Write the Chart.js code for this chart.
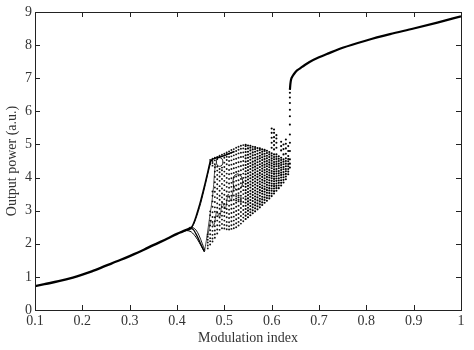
<!DOCTYPE html>
<html>
<head>
<meta charset="utf-8">
<script src="https://cdn.jsdelivr.net/npm/chart.js@4/dist/chart.umd.min.js"></script>
<style>
html,body{margin:0;padding:0;background:#fff;}
canvas{display:block;}
</style>
</head>
<body>
<canvas id="c" width="474" height="350"></canvas>
<script>
// ---- data ----
const xTicks = [0.1,0.2,0.3,0.4,0.5,0.6,0.7,0.8,0.9,1];
const yTicks = [0,1,2,3,4,5,6,7,8,9];

// lower stable branch
const mainX = [0.1,0.12,0.15,0.18,0.2,0.22,0.25,0.28,0.3,0.33,0.35,0.38,0.4,0.41,0.42,0.43];
const mainY = [0.72,0.78,0.87,0.98,1.07,1.17,1.34,1.51,1.63,1.82,1.96,2.16,2.3,2.36,2.42,2.47];

// period-doubled branch going up
const upX = [0.43,0.435,0.44,0.445,0.45,0.455,0.46,0.465,0.469,0.473,0.48,0.49,0.5,0.51,0.52];
const upY = [2.47,2.62,2.82,3.05,3.3,3.58,3.87,4.17,4.42,4.53,4.58,4.62,4.66,4.72,4.78];
const up2X = [0.428,0.435,0.44,0.445,0.45,0.455,0.46,0.465,0.47];
const up2Y = [2.45,2.58,2.76,2.98,3.22,3.5,3.79,4.1,4.4];

// branches bending down into the dip
const dn1X = [0.43,0.435,0.44,0.445,0.45,0.455,0.458];
const dn1Y = [2.47,2.42,2.3,2.16,2.0,1.85,1.76];
const dn2X = [0.41,0.42,0.43,0.44,0.447,0.453,0.457];
const dn2Y = [2.36,2.4,2.36,2.2,2.04,1.88,1.77];
const dn3X = [0.425,0.432,0.44,0.447,0.453,0.459];
const dn3Y = [2.49,2.5,2.42,2.24,2.02,1.8];

// left edge of the chaotic cloud (from the dip upward)
const edgeX = [0.458,0.462,0.466,0.47,0.474,0.477,0.479,0.481];
const edgeY = [1.76,2.1,2.5,2.9,3.3,3.7,4.1,4.38];

// small loops inside the cloud
const loop1X = [0.483,0.485,0.49,0.495,0.497,0.495,0.49,0.485,0.483];
const loop1Y = [4.47,4.57,4.6,4.57,4.47,4.37,4.34,4.37,4.47];
const loop2X = [0.518,0.521,0.528,0.535,0.539,0.535,0.528,0.521,0.518];
const loop2Y = [3.87,4.05,4.11,4.05,3.87,3.69,3.63,3.69,3.87];
const zig1X = [0.466,0.472,0.478,0.484,0.49,0.496,0.502,0.508,0.514,0.52];
const zig1Y = [2.3,2.72,2.55,2.98,2.8,3.25,3.05,3.5,3.3,3.75];

// chaotic cloud, by columns of modulation index (light left part)
const chaosLX = [0.465,0.47,0.475,0.48,0.485,0.49,0.495,0.5,0.505,0.51,0.515,0.52,0.525,0.53,0.535,0.54];
const chaosLY = [
  [1.86,1.95,2.04,2.12,2.21,2.28],
  [1.98,2.08,2.17,2.29,2.41,2.55,2.7,2.86,2.98,4.41,4.47,4.53],
  [2.07,2.16,2.27,2.39,2.52,2.66,2.81,2.95,3.12,3.28,3.45,3.58,4.36,4.44,4.5,4.57],
  [2.18,2.29,2.4,2.53,2.68,2.8,2.97,3.1,3.26,3.41,3.57,3.7,3.86,4.02,4.18,4.31,4.4,4.52,4.6],
  [2.31,2.43,2.56,2.7,2.83,2.95,3.09,3.22,3.38,3.5,3.66,3.8,3.95,4.08,4.21,4.33,4.56,4.62],
  [2.42,2.55,2.66,2.79,2.91,3.06,3.18,3.33,3.45,3.6,3.74,3.9,4.03,4.16,4.26,4.63,4.66],
  [2.47,2.6,2.73,2.85,2.98,3.11,3.26,3.4,3.52,3.67,3.81,3.96,4.1,4.22,4.3,4.64,4.69],
  [2.46,2.57,2.7,2.84,2.95,3.08,3.2,3.35,3.48,3.62,3.77,3.9,4.05,4.18,4.32,4.45,4.6,4.67,4.72],
  [2.44,2.55,2.66,2.8,2.93,3.05,3.19,3.31,3.44,3.58,3.72,3.85,3.99,4.12,4.26,4.4,4.53,4.63,4.71,4.76],
  [2.43,2.53,2.65,2.78,2.9,3.03,3.15,3.29,3.42,3.56,3.69,3.82,3.96,4.1,4.23,4.37,4.5,4.62,4.72,4.79],
  [2.45,2.56,2.68,2.8,2.93,3.06,3.18,3.31,3.45,3.58,3.72,3.84,3.98,4.12,4.26,4.39,4.52,4.64,4.75,4.83],
  [2.47,2.58,2.7,2.82,2.95,3.07,3.2,3.33,3.46,3.6,3.73,3.87,4.0,4.14,4.28,4.41,4.55,4.67,4.78,4.86],
  [2.5,2.62,2.74,2.87,2.99,3.12,3.24,3.31,3.37,3.44,3.5,3.63,3.76,3.9,4.03,4.17,4.3,4.44,4.57,4.7,4.8,4.9],
  [2.55,2.66,2.78,2.9,3.02,3.15,3.28,3.33,3.4,3.46,3.53,3.66,3.79,3.92,4.06,4.19,4.33,4.46,4.6,4.73,4.84,4.93],
  [2.61,2.72,2.84,2.96,3.08,3.2,3.27,3.32,3.38,3.45,3.57,3.7,3.83,3.96,4.09,4.22,4.35,4.48,4.62,4.75,4.87,4.96],
  [2.68,2.79,2.9,3.02,3.14,3.26,3.38,3.5,3.62,3.74,3.86,3.99,4.12,4.25,4.37,4.5,4.63,4.76,4.88,4.98]
];
// dense right part of the cloud
const chaosRX = [0.545,0.55,0.555,0.56,0.565,0.57,0.575,0.58,0.585,0.59,0.595,0.6,0.605,0.61,0.615,0.62,0.625,0.63,0.635,0.6385];
const chaosRY = [
  [2.75,2.85,2.95,3.05,3.15,3.24,3.34,3.43,3.53,3.62,3.72,3.81,3.9,4.0,4.1,4.19,4.29,4.38,4.48,4.58,4.67,4.77,4.86,4.95,4.99],
  [2.8,2.9,3.0,3.09,3.19,3.28,3.37,3.47,3.56,3.66,3.75,3.84,3.94,4.03,4.13,4.22,4.32,4.41,4.5,4.6,4.69,4.78,4.88,4.97],
  [2.86,2.95,3.04,3.14,3.23,3.32,3.42,3.51,3.6,3.7,3.79,3.88,3.98,4.07,4.16,4.26,4.35,4.44,4.54,4.63,4.72,4.82,4.9,4.96],
  [2.92,3.01,3.1,3.19,3.29,3.38,3.47,3.56,3.65,3.75,3.84,3.93,4.02,4.11,4.21,4.3,4.39,4.48,4.58,4.67,4.76,4.85,4.93],
  [2.98,3.07,3.16,3.25,3.34,3.43,3.52,3.61,3.7,3.79,3.88,3.97,4.06,4.15,4.24,4.33,4.42,4.51,4.6,4.69,4.78,4.86,4.92],
  [3.04,3.13,3.22,3.31,3.4,3.49,3.57,3.66,3.75,3.84,3.93,4.02,4.1,4.19,4.28,4.37,4.46,4.55,4.63,4.72,4.81,4.89],
  [3.1,3.19,3.28,3.36,3.45,3.54,3.62,3.71,3.8,3.88,3.97,4.06,4.14,4.23,4.32,4.4,4.49,4.58,4.66,4.75,4.83,4.88],
  [3.17,3.25,3.34,3.42,3.51,3.59,3.68,3.76,3.85,3.93,4.02,4.1,4.19,4.27,4.36,4.44,4.53,4.61,4.7,4.78,4.85],
  [3.24,3.32,3.4,3.49,3.57,3.65,3.73,3.82,3.9,3.98,4.06,4.15,4.23,4.31,4.39,4.48,4.56,4.64,4.72,4.8,4.84],
  [3.3,3.38,3.46,3.54,3.62,3.7,3.78,3.86,3.94,4.02,4.1,4.18,4.26,4.34,4.42,4.5,4.58,4.66,4.74,4.81],
  [3.37,3.45,3.53,3.61,3.68,3.76,3.84,3.92,4.0,4.07,4.15,4.23,4.31,4.39,4.46,4.54,4.62,4.7,4.77],
  [3.44,3.52,3.6,3.67,3.75,3.82,3.9,3.98,4.05,4.13,4.2,4.28,4.36,4.43,4.51,4.58,4.66,4.73,4.9,5.05,5.2,5.35,5.48],
  [3.52,3.59,3.67,3.74,3.81,3.89,3.96,4.03,4.11,4.18,4.25,4.33,4.4,4.47,4.55,4.62,4.7,4.85,4.98,5.1,5.22,5.35,5.45],
  [3.6,3.68,3.75,3.82,3.9,3.97,4.04,4.12,4.19,4.26,4.34,4.41,4.48,4.56,4.63,4.7,4.9,5.05,5.18,5.28],
  [3.68,3.76,3.84,3.91,3.98,4.06,4.13,4.2,4.28,4.35,4.42,4.5,4.57,4.64],
  [3.76,3.84,3.92,4.0,4.08,4.15,4.23,4.3,4.38,4.45,4.53,4.6,4.82,4.95,5.08],
  [3.85,3.93,4.01,4.09,4.17,4.25,4.32,4.4,4.48,4.55,4.7,4.86,5.0],
  [3.95,4.03,4.11,4.19,4.26,4.34,4.42,4.5,4.58,4.72,4.88,5.02,5.15],
  [4.1,4.18,4.26,4.34,4.41,4.49,4.56,4.65,4.8,4.95],
  [4.3,4.42,4.55,4.8,5.05,5.3,5.6,5.85,6.05,6.25,6.42,6.56]
];

// upper stable branch
const hiX = [0.6385,0.6395,0.641,0.645,0.65,0.655,0.66,0.67,0.68,0.7,0.72,0.75,0.8,0.85,0.9,0.95,1.0];
const hiY = [6.65,6.82,6.96,7.08,7.18,7.25,7.3,7.4,7.49,7.63,7.75,7.92,8.14,8.33,8.5,8.68,8.87];

// ---- build datasets ----
const pts = (xs, ys) => xs.map((x, i) => ({x, y: ys[i]}));
const lineDs = (xs, ys, w, mono) => ({data: pts(xs, ys), showLine: true, borderColor: '#000', borderWidth: w,
  pointRadius: 0, tension: 0.3, cubicInterpolationMode: mono ? 'monotone' : 'default', fill: false});
const colPts = (xs, yss) => { const out = []; xs.forEach((x, i) => yss[i].forEach(y => out.push({x, y}))); return out; };

const datasets = [
  lineDs(mainX, mainY, 2.4, true),
  lineDs(upX, upY, 1.4, true),
  lineDs(up2X, up2Y, 1.0, true),
  lineDs(dn1X, dn1Y, 1.3, true),
  lineDs(dn2X, dn2Y, 1.0, false),
  lineDs(dn3X, dn3Y, 0.9, false),
  lineDs(edgeX, edgeY, 0.7, true),
  lineDs(loop1X, loop1Y, 0.9, false),
  lineDs(loop2X, loop2Y, 0.9, false),
  lineDs(zig1X, zig1Y, 0.7, false),
  lineDs(hiX, hiY, 2.2, true),
  {data: colPts(chaosLX, chaosLY), showLine: false, pointRadius: 0.95, pointBackgroundColor: '#111', pointBorderWidth: 0},
  {data: colPts(chaosRX, chaosRY), showLine: false, pointRadius: 1.05, pointBackgroundColor: '#000', pointBorderWidth: 0}
];

const boxPlugin = {
  id: 'box',
  afterDraw(chart) {
    const {ctx, chartArea: a, scales} = chart;
    ctx.save();
    ctx.strokeStyle = '#222';
    ctx.lineWidth = 1;
    ctx.strokeRect(Math.round(a.left) + 0.5, Math.round(a.top) + 0.5,
      Math.round(a.right - a.left), Math.round(a.bottom - a.top));
    const L = 5;
    ctx.beginPath();
    scales.x.ticks.forEach((t, i) => {
      const p = Math.round(scales.x.getPixelForTick(i)) + 0.5;
      ctx.moveTo(p, a.bottom); ctx.lineTo(p, a.bottom - L);
      ctx.moveTo(p, a.top); ctx.lineTo(p, a.top + L);
    });
    scales.y.ticks.forEach((t, i) => {
      const p = Math.round(scales.y.getPixelForTick(i)) + 0.5;
      ctx.moveTo(a.left, p); ctx.lineTo(a.left + L, p);
      ctx.moveTo(a.right, p); ctx.lineTo(a.right - L, p);
    });
    ctx.stroke();
    ctx.restore();
  }
};

const font = {family: "'Liberation Serif','Times New Roman',serif", size: 14};
new Chart(document.getElementById('c'), {
  type: 'scatter',
  data: {datasets},
  options: {
    responsive: false,
    animation: false,
    devicePixelRatio: 1,
    layout: {padding: {top: 12, right: 13, left: 0, bottom: 0}},
    plugins: {legend: {display: false}, tooltip: {enabled: false}},
    scales: {
      x: {
        type: 'linear', min: xTicks[0], max: xTicks[xTicks.length - 1],
        afterBuildTicks: s => { s.ticks = xTicks.map(v => ({value: v})); },
        afterFit: s => { s.height = 40; },
        grid: {display: false, drawTicks: false},
        border: {display: false},
        ticks: {font, color: '#333', padding: 3, autoSkip: false, maxRotation: 0,
          callback: v => String(+v.toFixed(1))},
        title: {display: true, text: 'Modulation index', font, color: '#333', padding: {top: 0, bottom: 3}}
      },
      y: {
        type: 'linear', min: yTicks[0], max: yTicks[yTicks.length - 1],
        afterBuildTicks: s => { s.ticks = yTicks.map(v => ({value: v})); },
        afterFit: s => { s.width = 35; },
        grid: {display: false, drawTicks: false},
        border: {display: false},
        ticks: {font, color: '#333', padding: 3, autoSkip: false, callback: v => String(v)},
        title: {display: true, text: 'Output power (a.u.)', font, color: '#333', padding: {top: 4, bottom: 0}}
      }
    }
  },
  plugins: [boxPlugin]
});
</script>
</body>
</html>
